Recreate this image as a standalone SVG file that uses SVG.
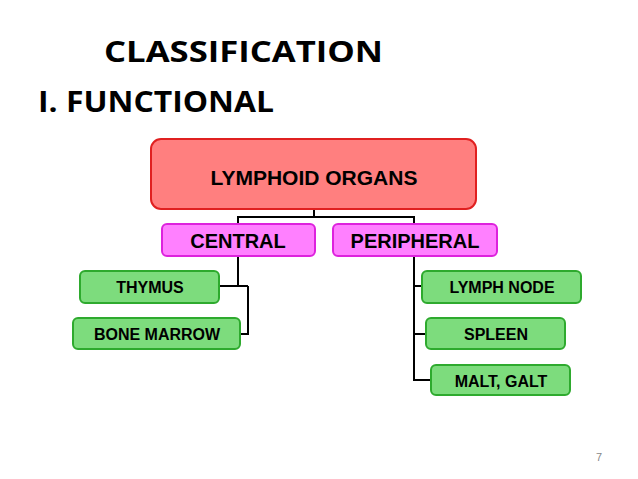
<svg xmlns="http://www.w3.org/2000/svg" width="638" height="479" viewBox="0 0 638 479">
<style>
.t{font-family:"Open Sans","Liberation Sans",sans-serif;font-weight:bold;font-size:29px;fill:#000}
.l{font-family:"Liberation Sans",Arial,sans-serif;font-weight:bold;fill:#000;text-anchor:middle}
.g rect{fill:#7ddc7d;stroke:#2eaa2e;stroke-width:2}
.c path{fill:none;stroke:#000;stroke-width:2}
</style>
<rect width="638" height="479" fill="#fff"/>
<text class="t" x="104" y="62" textLength="279" lengthAdjust="spacingAndGlyphs">CLASSIFICATION</text>
<text class="t" x="38" y="112" textLength="236" lengthAdjust="spacingAndGlyphs">I. FUNCTIONAL</text>
<g class="c">
<path d="M314 209V217M238 225V217H414V225"/>
<path d="M238 256V286H219M248 286V334H240M238 286H248"/>
<path d="M414 256V380H431M414 286H422M414 334H426"/>
</g>
<g id="lymphoid"><rect x="151" y="139" width="325" height="70" rx="10" fill="#ff7f7f" stroke="#e02020" stroke-width="2"/><text class="l" x="314" y="185" font-size="21">LYMPHOID ORGANS</text></g>
<g id="central"><rect x="162" y="224" width="153" height="32" rx="5" fill="#ff80ff" stroke="#dd22dd" stroke-width="2"/><text class="l" x="238" y="248" font-size="20">CENTRAL</text></g>
<g id="peripheral"><rect x="333" y="224" width="164" height="32" rx="5" fill="#ff80ff" stroke="#dd22dd" stroke-width="2"/><text class="l" x="415" y="248" font-size="20">PERIPHERAL</text></g>
<g id="thymus" class="g"><rect x="80" y="271" width="139" height="32" rx="5"/><text class="l" x="150" y="293" font-size="16">THYMUS</text></g>
<g id="bonemarrow" class="g"><rect x="73" y="318" width="167" height="31" rx="5"/><text class="l" x="157" y="340" font-size="16">BONE MARROW</text></g>
<g id="lymphnode" class="g"><rect x="422" y="271" width="159" height="32" rx="5"/><text class="l" x="502" y="293" font-size="16">LYMPH NODE</text></g>
<g id="spleen" class="g"><rect x="426" y="318" width="139" height="31" rx="5"/><text class="l" x="496" y="340" font-size="16">SPLEEN</text></g>
<g id="malt" class="g"><rect x="431" y="365" width="139" height="30" rx="5"/><text class="l" x="501" y="387" font-size="16">MALT, GALT</text></g>
<text x="596" y="461" font-family="Liberation Sans,sans-serif" font-size="11" fill="#888">7</text>
</svg>
